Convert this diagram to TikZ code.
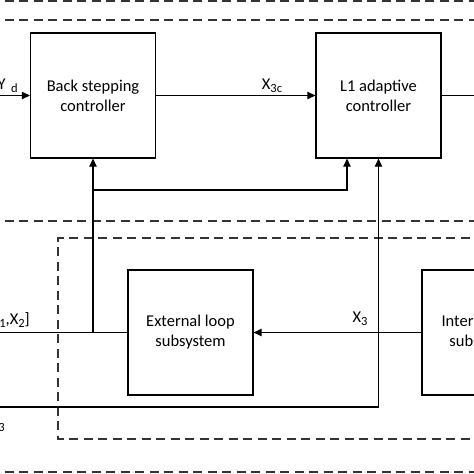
\documentclass[tikz,border=0pt]{standalone}
\usepackage{fontspec}
\setmainfont{Carlito}
\usetikzlibrary{arrows.meta}
\newcommand{\lowsub}[1]{\raisebox{-0.35ex}{\fontsize{12.5}{14}\selectfont #1}}
\begin{document}
\begin{tikzpicture}[x=1pt,y=-1pt,
  blk/.style={draw,line width=1.3pt,minimum width=125pt,minimum height=125pt,align=center,inner sep=0pt,font=\fontsize{16.5}{20}\selectfont},
  conn/.style={line width=1.1pt},
  arr/.style={conn,-{Triangle[length=8pt,width=7.5pt]}},
  dsh/.style={line width=1.3pt,dash pattern=on 9pt off 5.5pt,draw=black!80},
  lbl/.style={font=\fontsize{16.5}{20}\selectfont,inner sep=0pt}]
\useasboundingbox (0,0) rectangle (474,474);
% dashed frames
\draw[dsh] (-10,1) -- (484,1);
\draw[dsh] (-10,20) -- (484,20);
\draw[dsh] (-10,221) -- (484,221);
\draw[dsh] (484,238) -- (58,238) -- (58,439) -- (484,439);
\draw[dsh] (-10,472) -- (484,472);
% blocks
\node[blk] (bs) at (93,95.5) {Back stepping\\controller};
\node[blk] (l1) at (378.5,95.5) {L1 adaptive\\controller};
\node[blk] (ext) at (190.5,332.5) {External loop\\subsystem};
\node[blk] (int) at (484.5,332.5) {Internal loop\\subsystem};
% input
\coordinate (in) at (-2,95.5);
\draw[arr] (in) -- (bs.west);
\node[lbl,anchor=east] (yd) at (18,86) {Y\,\,\lowsub{d}};
% bs -> l1
\draw[arr] (bs.east) -- (l1.west);
\node[lbl] (x3c) at (272,86) {X\lowsub{3c}};
% output
\coordinate (out) at (476,95.5);
\draw[conn] (l1.east) -- (out);
% X1,X2 line
\coordinate (x12) at (-2,332.5);
\draw[conn] (x12) -- (ext.west);
\node[lbl,anchor=east] (x12l) at (30,320) {[X\lowsub{1},X\lowsub{2}]};
% feedback to bs and l1
\coordinate (j1) at (93,332.5);
\draw[arr] (j1) -- (bs.south);
\coordinate (j2) at (93,190);
\draw[arr] (j2) -| ([xshift=-31.5pt]l1.south);
% X3 line from left to l1
\coordinate (x3in) at (-2,407);
\draw[arr] (x3in) -| (l1.south);
\node[lbl,anchor=east] (x3b) at (5,425) {X\lowsub{3}};
% internal -> external
\draw[arr] (int.west) -- (ext.east);
\node[lbl] (x3) at (360,319) {X\lowsub{3}};
\end{tikzpicture}
\end{document}
